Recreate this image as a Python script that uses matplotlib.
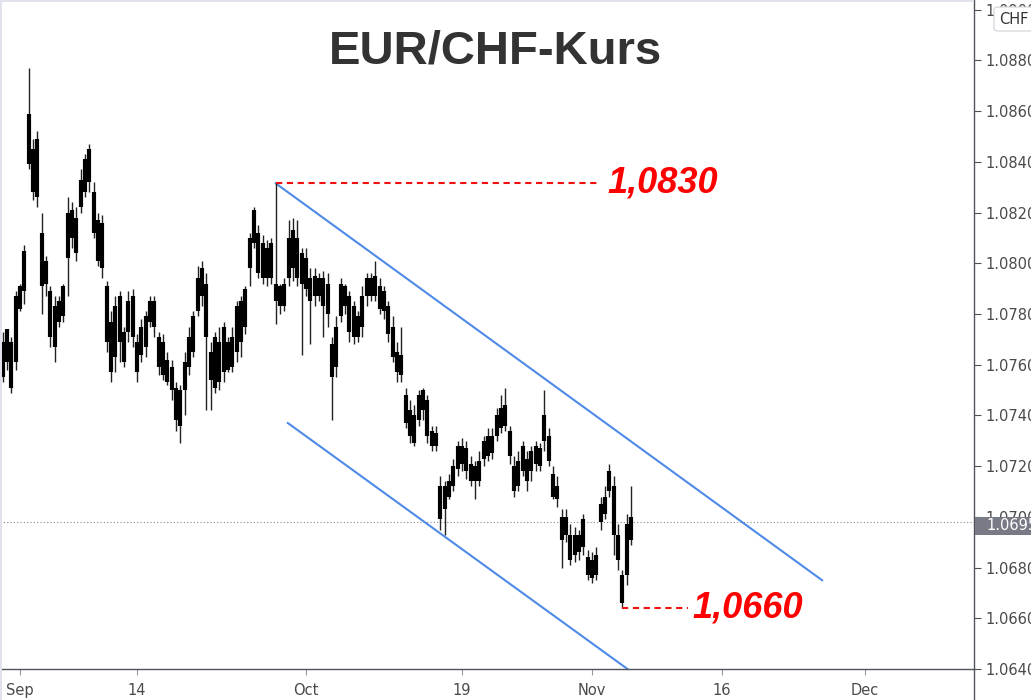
import matplotlib.pyplot as plt
import numpy as np
from matplotlib.lines import Line2D
from matplotlib.patches import FancyBboxPatch, Rectangle

# EUR/CHF, 8-hour bars; x axis = trading days since 1 Sep 2020
body_hi = [1.0769, 1.0774, 1.0769, 1.0787, 1.0791, 1.0805, 1.0859, 1.0845, 1.0849, 1.0812,
           1.0801, 1.0789, 1.0783, 1.0785, 1.0791, 1.0820, 1.0821, 1.0818, 1.0833, 1.0841,
           1.0845, 1.0828, 1.0817, 1.0816, 1.0791, 1.0777, 1.0783, 1.0787, 1.0773, 1.0785,
           1.0787, 1.0769, 1.0775, 1.0779, 1.0785, 1.0785, 1.0771, 1.0769, 1.0762, 1.0759,
           1.0751, 1.0750, 1.0761, 1.0771, 1.0779, 1.0794, 1.0798, 1.0792, 1.0765, 1.0771,
           1.0769, 1.0775, 1.0769, 1.0771, 1.0783, 1.0785, 1.0790, 1.0810, 1.0821, 1.0812,
           1.0808, 1.0806, 1.0808, 1.0792, 1.0791, 1.0792, 1.0810, 1.0813, 1.0810, 1.0804,
           1.0802, 1.0794, 1.0795, 1.0794, 1.0794, 1.0792, 1.0768, 1.0775, 1.0792, 1.0791,
           1.0787, 1.0783, 1.0779, 1.0787, 1.0794, 1.0794, 1.0795, 1.0791, 1.0789, 1.0783,
           1.0775, 1.0765, 1.0764, 1.0748, 1.0742, 1.0740, 1.0748, 1.0750, 1.0746, 1.0734,
           1.0733, 1.0712, 1.0712, 1.0714, 1.0720, 1.0728, 1.0728, 1.0727, 1.0721, 1.0720,
           1.0722, 1.0730, 1.0732, 1.0732, 1.0740, 1.0743, 1.0744, 1.0734, 1.0720, 1.0722,
           1.0728, 1.0723, 1.0726, 1.0728, 1.0727, 1.0740, 1.0732, 1.0717, 1.0712, 1.0700,
           1.0700, 1.0693, 1.0693, 1.0693, 1.0699, 1.0684, 1.0683, 1.0685, 1.0705, 1.0708,
           1.0718, 1.0712, 1.0693, 1.0677, 1.0697, 1.0700]
body_lo = [1.0755, 1.0761, 1.0751, 1.0761, 1.0782, 1.0789, 1.0839, 1.0828, 1.0826, 1.0791,
           1.0792, 1.0771, 1.0767, 1.0777, 1.0779, 1.0802, 1.0810, 1.0804, 1.0822, 1.0828,
           1.0832, 1.0812, 1.0801, 1.0798, 1.0769, 1.0757, 1.0763, 1.0769, 1.0761, 1.0773,
           1.0771, 1.0757, 1.0764, 1.0767, 1.0777, 1.0775, 1.0759, 1.0756, 1.0753, 1.0750,
           1.0738, 1.0736, 1.0750, 1.0759, 1.0765, 1.0781, 1.0787, 1.0771, 1.0754, 1.0751,
           1.0753, 1.0757, 1.0758, 1.0759, 1.0765, 1.0769, 1.0775, 1.0798, 1.0808, 1.0796,
           1.0794, 1.0794, 1.0794, 1.0785, 1.0783, 1.0783, 1.0794, 1.0798, 1.0794, 1.0792,
           1.0790, 1.0785, 1.0787, 1.0787, 1.0783, 1.0780, 1.0755, 1.0759, 1.0779, 1.0783,
           1.0773, 1.0771, 1.0771, 1.0775, 1.0787, 1.0787, 1.0787, 1.0782, 1.0781, 1.0772,
           1.0763, 1.0757, 1.0756, 1.0737, 1.0732, 1.0729, 1.0738, 1.0742, 1.0732, 1.0728,
           1.0728, 1.0699, 1.0703, 1.0708, 1.0712, 1.0719, 1.0721, 1.0718, 1.0714, 1.0714,
           1.0714, 1.0723, 1.0724, 1.0725, 1.0732, 1.0735, 1.0736, 1.0724, 1.0710, 1.0712,
           1.0718, 1.0714, 1.0718, 1.0721, 1.0720, 1.0730, 1.0722, 1.0708, 1.0707, 1.0691,
           1.0693, 1.0683, 1.0685, 1.0686, 1.0688, 1.0677, 1.0676, 1.0677, 1.0698, 1.0701,
           1.0710, 1.0693, 1.0683, 1.0666, 1.0677, 1.0691]
highs = [1.0773, 1.0774, 1.0771, 1.0789, 1.0792, 1.0807, 1.0877, 1.0849, 1.0852, 1.0820,
         1.0803, 1.0791, 1.0787, 1.0787, 1.0792, 1.0826, 1.0824, 1.0822, 1.0837, 1.0843,
         1.0847, 1.0832, 1.0820, 1.0819, 1.0793, 1.0781, 1.0787, 1.0789, 1.0775, 1.0789,
         1.0790, 1.0772, 1.0778, 1.0781, 1.0787, 1.0787, 1.0773, 1.0772, 1.0765, 1.0762,
         1.0753, 1.0752, 1.0765, 1.0775, 1.0781, 1.0799, 1.0801, 1.0796, 1.0769, 1.0773,
         1.0775, 1.0777, 1.0771, 1.0775, 1.0785, 1.0787, 1.0791, 1.0812, 1.0822, 1.0815,
         1.0811, 1.0809, 1.0810, 1.08315, 1.0792, 1.0794, 1.0817, 1.0818, 1.0817, 1.0806,
         1.0806, 1.0798, 1.0798, 1.0796, 1.0797, 1.0796, 1.0771, 1.0779, 1.0794, 1.0792,
         1.0789, 1.0785, 1.0781, 1.0791, 1.0796, 1.0796, 1.0801, 1.0794, 1.0791, 1.0785,
         1.0779, 1.0769, 1.0775, 1.0751, 1.0746, 1.0744, 1.0750, 1.0751, 1.0748, 1.0736,
         1.0736, 1.0716, 1.0714, 1.0717, 1.0723, 1.0730, 1.0731, 1.0730, 1.0724, 1.0722,
         1.0726, 1.0732, 1.0735, 1.0735, 1.0743, 1.0748, 1.0751, 1.0736, 1.0724, 1.0726,
         1.0730, 1.0726, 1.0728, 1.0730, 1.0729, 1.0750, 1.0735, 1.0720, 1.0716, 1.0703,
         1.0703, 1.0697, 1.0696, 1.0695, 1.0701, 1.0687, 1.0686, 1.0688, 1.0708, 1.0712,
         1.0721, 1.0716, 1.0697, 1.0679, 1.0701, 1.0712]
lows = [1.0753, 1.0758, 1.0749, 1.0758, 1.0781, 1.0784, 1.0837, 1.0825, 1.0822, 1.0780,
        1.0787, 1.0767, 1.0761, 1.0775, 1.0777, 1.0787, 1.0806, 1.0801, 1.0820, 1.0826,
        1.0828, 1.0810, 1.0799, 1.0794, 1.0765, 1.0753, 1.0757, 1.0761, 1.0759, 1.0769,
        1.0767, 1.0753, 1.0761, 1.0763, 1.0775, 1.0771, 1.0756, 1.0754, 1.0752, 1.0746,
        1.0734, 1.0729, 1.0740, 1.0756, 1.0763, 1.0779, 1.0783, 1.0742, 1.0742, 1.0749,
        1.0750, 1.0753, 1.0757, 1.0757, 1.0761, 1.0763, 1.0772, 1.0791, 1.0806, 1.0794,
        1.0792, 1.0791, 1.0792, 1.0776, 1.0780, 1.0781, 1.0791, 1.0793, 1.0791, 1.0764,
        1.0787, 1.0768, 1.0783, 1.0785, 1.0771, 1.0775, 1.0738, 1.0755, 1.0777, 1.0780,
        1.0769, 1.0768, 1.0769, 1.0771, 1.0783, 1.0785, 1.0785, 1.0780, 1.0778, 1.0769,
        1.0761, 1.0753, 1.0753, 1.0735, 1.0729, 1.0728, 1.0736, 1.0738, 1.0729, 1.0726,
        1.0726, 1.0695, 1.0693, 1.0707, 1.0710, 1.0716, 1.0718, 1.0715, 1.0712, 1.0707,
        1.0712, 1.0720, 1.0722, 1.0723, 1.0730, 1.0733, 1.0734, 1.0721, 1.0708, 1.0710,
        1.0716, 1.0710, 1.0714, 1.0718, 1.0718, 1.0726, 1.0720, 1.0707, 1.0704, 1.0680,
        1.0690, 1.0681, 1.0682, 1.0683, 1.0685, 1.0675, 1.0674, 1.0675, 1.0695, 1.0699,
        1.0708, 1.0685, 1.0679, 1.0664, 1.0673, 1.0689]

first_bar_day = -4 / 3      # first bar: Aug 31, 16:00
bars_per_day = 3

# trend channel (day index, price)
upper_t = [19.67, 61.7]
upper_p = [1.08315, 1.0675]
lower_t = [20.6, 47.0]
lower_p = [1.0737, 1.0639]

level_hi, level_hi_txt = 1.08315, "1,0830"
level_lo, level_lo_txt = 1.0664, "1,0660"
last_line, last_txt = 1.0698, "1.0695"

x_ticks = [0, 9, 22, 34, 44, 54, 65]
x_labels = ["Sep", "14", "Oct", "19", "Nov", "16", "Dec"]
y_ticks = [1.0640, 1.0660, 1.0680, 1.0700, 1.0720, 1.0740, 1.0760, 1.0780,
           1.0800, 1.0820, 1.0840, 1.0860, 1.0880, 1.0900]

W, H = 1031, 700
fig = plt.figure(figsize=(W / 100, H / 100), dpi=100)
ax = fig.add_axes([0, 31 / H, 974 / W, 669 / H])
ax.set_xlim(-20 / 13, 954 / 13)
ax.set_ylim(1.06425, 1.09038)

t = first_bar_day + np.arange(len(highs)) / bars_per_day
ax.vlines(t, lows, highs, color="#222", lw=1.0, zorder=3)
ax.vlines(t, body_lo, body_hi, color="black", lw=3.0, zorder=4)

# channel
ax.plot(upper_t, upper_p, color="#4f8ae8", lw=1.5, zorder=2)
ax.plot(lower_t, lower_p, color="#4f8ae8", lw=1.5, zorder=2)

# last price
ax.axhline(last_line, color="#888", lw=0.8, ls=(0, (1, 2)), zorder=1)

# swing high (channel start) and latest low
i_hi = int(np.argmin(np.abs(t - upper_t[0])))
i_lo = int(np.argmin(lows))
ax.plot([t[i_hi], 44.6], [level_hi, level_hi], color="#f01010", lw=1.5,
        ls=(0, (3, 2.2)), zorder=5)
ax.plot([t[i_lo], 51.4], [level_lo, level_lo], color="#f01010", lw=1.5,
        ls=(0, (3, 2.2)), zorder=5)
ax.text(45.15, level_hi, level_hi_txt, color="#ff0000", fontsize=26,
        fontweight="bold", fontstyle="italic", family="Liberation Sans",
        ha="left", va="center")
ax.text(51.7, level_lo, level_lo_txt, color="#ff0000", fontsize=26,
        fontweight="bold", fontstyle="italic", family="Liberation Sans",
        ha="left", va="center")

# axes look
for s in ("top", "left"):
    ax.spines[s].set_visible(False)
for s in ("right", "bottom"):
    ax.spines[s].set_color("#50535e")
    ax.spines[s].set_linewidth(1.0)
ax.yaxis.tick_right()
ax.set_yticks(y_ticks)
ax.set_yticklabels([f"{v:.4f}" for v in y_ticks])
ax.set_xticks(x_ticks)
ax.set_xticklabels(x_labels)
ax.tick_params(axis="y", direction="out", length=5, width=0.8, color="#50535e",
               labelsize=10.5, labelcolor="#4a4a4a", pad=3)
ax.tick_params(axis="x", direction="out", length=4, width=0.8, color="#9598a1",
               labelsize=10.5, labelcolor="#4a4a4a", pad=6)
for lab in ax.get_xticklabels():
    lab.set_family(["Liberation Sans Narrow", "DejaVu Sans"])
for lab in ax.get_yticklabels():
    lab.set_family(["DejaVu Sans"])

# right axis line continues through the date row
fig.add_artist(Line2D([974 / W, 974 / W], [0, 31 / H], color="#50535e", lw=1.0))

# frame edges of the screenshot
fig.add_artist(Rectangle((0, 0), 2 / W, 1, color="#e0e3eb", lw=0))
fig.add_artist(Rectangle((0, 1 - 2 / H), 974 / W, 2 / H, color="#e0e3eb", lw=0))

# last price tag
fig.add_artist(Rectangle((975 / W, 1 - 535 / H), 60 / W, 18 / H,
                         facecolor="#787b86", edgecolor="none", zorder=10))
fig.text(986 / W, 1 - 526 / H, last_txt, color="white", fontsize=10.5,
         family="DejaVu Sans", va="center", ha="left", zorder=11)

# currency badge
fig.add_artist(FancyBboxPatch((994 / W, 1 - 31 / H), 45 / W, 24 / H,
                              boxstyle="round,pad=0,rounding_size=0.004",
                              facecolor="white", edgecolor="#cfd2d9", lw=0.8,
                              zorder=10))
fig.text(999 / W, 1 - 19 / H, "CHF", color="#333", fontsize=10.5,
         family="DejaVu Sans", va="center", ha="left", zorder=11)

fig.text(495 / W, 1 - 52 / H, "EUR/CHF-Kurs", color="#333333", fontsize=34,
         fontweight="bold", family="Liberation Sans", ha="center", va="center")

fig.savefig("out.png", dpi=100)
